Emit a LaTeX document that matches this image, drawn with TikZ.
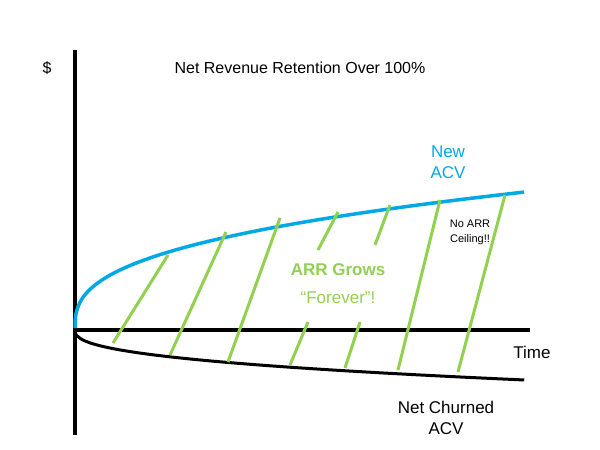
\documentclass[tikz,border=0pt]{standalone}
\usepackage{fontspec}
\setmainfont{Liberation Sans}
\definecolor{bl}{RGB}{0,169,230}
\definecolor{gr}{RGB}{146,208,80}
\begin{document}
\begin{tikzpicture}[x=1pt,y=-1pt,
  grl/.style={gr,line width=3pt},
  lab/.style={font=\fontsize{16}{20}\selectfont,align=center}]
\useasboundingbox (0,0) rectangle (600,450);
\draw[line width=4pt] (75,50) -- (75,435);
\draw[line width=3.5pt] (75,330) -- (530,330);
\draw[bl,line width=3.5pt] plot[domain=0:1,samples=80,variable=\t] ({75+450*(\t)^(2.7)},{328-136*\t});
\draw[line width=3pt] plot[domain=0:1,samples=80,variable=\t] ({75+450*(\t)^(2.5)},{330+50*\t});
\draw[grl] (113,343) -- (168,255);
\draw[grl] (170,355) -- (226,232);
\draw[grl] (228,362) -- (280,218);
\draw[grl] (290,365) -- (308,322);
\draw[grl] (318,250) -- (338,212);
\draw[grl] (345,368) -- (360,322);
\draw[grl] (375,245) -- (390,205);
\draw[grl] (398,370) -- (440,200);
\draw[grl] (458,372) -- (505,195);
\node[lab] (d) at (47,68) {\$};
\node[lab] (t) at (300,68) {Net Revenue Retention Over 100\%};
\node[lab,bl,font=\fontsize{17}{21}\selectfont] (n) at (448,162) {New\\ACV};
\node[font=\fontsize{11}{15}\selectfont,align=center] (c) at (470,232) {No ARR\\Ceiling!!};
\node[lab,gr,font=\bfseries\fontsize{17}{20}\selectfont] (g) at (338,270) {ARR Grows};
\node[lab,gr,font=\fontsize{17}{20}\selectfont] (f) at (338,298) {“Forever”!};
\node[lab,font=\fontsize{17}{20}\selectfont] (tm) at (532,352) {Time};
\node[lab,font=\fontsize{17}{21}\selectfont] (nc) at (446,418) {Net Churned\\ACV};
\end{tikzpicture}
\end{document}
